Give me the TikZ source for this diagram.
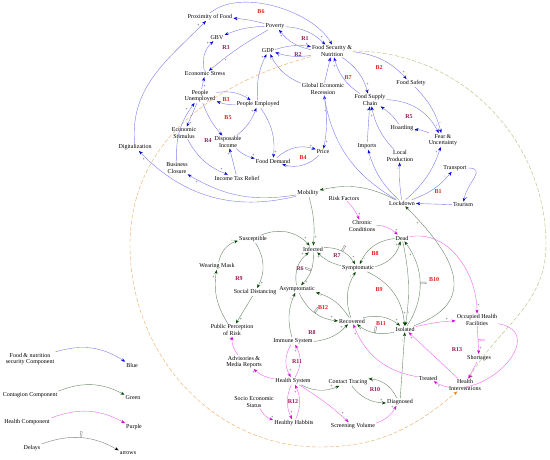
\documentclass[tikz,border=0pt]{standalone}
\usepackage{fontspec}
\setmainfont{Liberation Serif}
\usetikzlibrary{arrows.meta}
\definecolor{foodline}{RGB}{125,125,235}
\definecolor{foodtip}{RGB}{0,0,225}
\definecolor{contline}{RGB}{105,135,105}
\definecolor{conttip}{RGB}{0,70,0}
\definecolor{hlthline}{RGB}{240,100,240}
\definecolor{hlthtip}{RGB}{215,0,215}
\definecolor{loopred}{RGB}{225,30,30}
\definecolor{loopmaroon}{RGB}{145,25,85}
\definecolor{ringorange}{RGB}{235,170,95}
\definecolor{ringolive}{RGB}{185,185,120}
\begin{document}
\begin{tikzpicture}[
    x=1pt, y=1pt,
    auto,
    font=\fontsize{6}{6.3}\selectfont,
    every node/.style={align=center, inner sep=1pt},
    food/.style={draw=foodline, -{Stealth[length=4pt,width=3pt,color=foodtip]}},
    cont/.style={draw=contline, -{Stealth[length=4pt,width=3pt,color=conttip]}},
    hlth/.style={draw=hlthline, -{Stealth[length=4pt,width=3pt,color=hlthtip]}},
    lag/.style={draw=gray, -{Stealth[length=4pt,width=3pt,color=black]}},
    dly/.style={draw=gray, fill=white, sloped, minimum width=1.6pt, minimum height=6pt, inner sep=0pt},
    sgn/.style={font=\fontsize{4}{4}\selectfont, inner sep=0.5pt},
    bl/.style={text=loopred, font=\fontsize{6}{6}\selectfont\bfseries},
    rl/.style={text=loopmaroon, font=\fontsize{6}{6}\selectfont\bfseries},
    ring/.style={dashed, dash pattern=on 4pt off 2pt, thin}
]
\useasboundingbox (0,0) rectangle (550,460);

\node (prox) at (210,443) {Proximity of Food};
\node (pov) at (275,434) {Poverty};
\node (gbv) at (217,422) {GBV};
\node (gdp) at (268,409) {GDP};
\node (fsn) at (332,409) {Food Security \&\\Nutrition};
\node (fsafe) at (411,377) {Food Safety};
\node (estress) at (205,386) {Economic Stress};
\node (ger) at (323,371) {Global Economic\\Recession};
\node (fsc) at (370,360) {Food Supply\\Chain};
\node (punemp) at (200,364) {People\\Unemployed};
\node (pemp) at (258,356) {People Employed};
\node (estim) at (184,327) {Economic\\Stimulus};
\node (dinc) at (228,318) {Disposable\\Income};
\node (fdem) at (273,299) {Food Demand};
\node (price) at (323,308) {Price};
\node (bclos) at (177,292) {Business\\Closure};
\node (itax) at (237,282) {Income Tax Relief};
\node (mob) at (308,267) {Mobility};
\node (risk) at (344,262) {Risk Factors};
\node (digit) at (135,313) {Digitalization};
\node (imports) at (367,314) {Imports};
\node (localp) at (400,304) {Local\\Production};
\node (hoard) at (402,332) {Hoarding};
\node (fear) at (443,320) {Fear \&\\Uncertainty};
\node (transp) at (455,292) {Transport};
\node (lock) at (402,257) {Lockdown};
\node (tour) at (463,255) {Tourism};
\node (chronic) at (362,234) {Chronic\\Conditions};
\node (dead) at (402,222) {Dead};
\node (inf) at (313,211) {Infected};
\node (sympt) at (358,192) {Symptomatic};
\node (asympt) at (297,171) {Asymptomatic};
\node (recov) at (352,139) {Recovered};
\node (isol) at (405,131) {Isolated};
\node (ohf) at (477,140) {Occupied Health\\Facilities};
\node (immune) at (293,119) {Immune System};
\node (susc) at (253,221) {Susceptible};
\node (mask) at (217,194) {Wearing Mask};
\node (sdist) at (255,168) {Social Distancing};
\node (pperc) at (232,130) {Public Perception\\of Risk};
\node (amr) at (244,98) {Advisories \&\\Media Reports};
\node (hsys) at (293,79) {Health System};
\node (ctrace) at (348,78) {Contact Tracing};
\node (diag) at (400,58) {Diagnosed};
\node (treat) at (428,82) {Treated};
\node (hint) at (465,75) {Health\\Interventions};
\node (short) at (479,102) {Shortages};
\node (ses) at (254,58) {Socio Economic\\Status};
\node (hhab) at (294,37) {Healthy Habbits};
\node (screen) at (353,34) {Screening Volume};

\node[bl] at (261,448) {B6};
\node[rl] at (226,412) {R3};
\node[rl] at (305,421) {R1};
\node[rl] at (298,405) {R2};
\node[bl] at (379,392) {B2};
\node[bl] at (348,382) {B7};
\node[bl] at (226,360) {B3};
\node[bl] at (228,342) {B5};
\node[rl] at (208,319) {R4};
\node[bl] at (303,302) {B4};
\node[rl] at (409,343) {R5};
\node[bl] at (438,268) {B1};
\node[rl] at (337,204) {R7};
\node[bl] at (375,206) {B8};
\node[rl] at (300,191) {R6};
\node[rl] at (239,181) {R9};
\node[bl] at (379,170) {B9};
\node[bl] at (434,180) {B10};
\node[bl] at (323,152) {B12};
\node[bl] at (381,136) {B11};
\node[rl] at (312,127) {R8};
\node[rl] at (297,98) {R11};
\node[rl] at (375,70) {R10};
\node[rl] at (293,58) {R12};
\node[rl] at (457,110) {R13};

\coordinate (ringW) at (130,215);
\coordinate (ringS) at (320,13);
\coordinate (ringE) at (546,215);
\draw[ring, draw=ringorange, -{Stealth[length=4pt,width=3pt,color=orange]}]
  (fsn) to[out=195, in=90] (ringW) to[out=-90, in=180] (ringS) to[out=0, in=-140] (hint);
\draw[ring, draw=ringolive, -{Stealth[length=4pt,width=3pt,color=olive]}]
  (fsn) to[out=0, in=90] (ringE) to[out=-90, in=60] (hint);

\path
  (pov) edge[food, bend right=5] node[sgn, pos=.85] {+} (prox)
  (digit) edge[food, out=95, in=225] node[sgn, pos=.95] {+} (prox)
  (prox.north) edge[food, out=40, in=120, looseness=.8] (fsn.north)
  (pov) edge[food, bend left=20] node[sgn, pos=.85] {+} (fsn)
  (fsn) edge[food, bend left=20] node[sgn, pos=.85] {+} (pov)
  (gdp) edge[food, bend left=12] node[sgn, pos=.85] {+} (fsn)
  (fsn) edge[food, bend left=12] node[sgn, pos=.85] {+} (gdp)
  (pov) edge[food, bend right=10] (gbv)
  (estress) edge[food, bend left=30] node[sgn, pos=.85] {+} (gbv)
  (pov) edge[food, bend right=5] node[sgn, pos=.75] {+} (estress)
  (punemp) edge[food] node[sgn, pos=.4, swap] {+} (estress)
  (ger) edge[food, bend left=20] node[sgn, pos=.9] {-} (gdp)
  (pemp) edge[food, bend left=15] node[sgn, pos=.9] {+} (gdp)
  (ger) edge[food] node[sgn, pos=.85] {-} (fsn)
  (fsn) edge[food, bend left=20] node[sgn, pos=.85] {+} (fsc)
  (fsc) edge[food, bend left=20] node[sgn, pos=.85] {+} (fsn)
  (fsn) edge[food, bend left=20] node[sgn, pos=.9] {+} (fsafe)
  (fsafe) edge[food, bend left=15] node[sgn, pos=.85] {-} (fear)
  (fsc) edge[food, bend left=30] node[sgn, pos=.9] {-} (fear)
  (fear) edge[food, bend right=10] node[sgn, pos=.8] {+} (hoard)
  (hoard) edge[food, bend right=10] node[sgn, pos=.85] {-} (fsc)
  (localp) edge[food, bend left=15] node[sgn, pos=.85] {+} (fsc)
  (imports) edge[food] node[sgn, pos=.85] {+} (fsc)
  (lock) edge[food, bend left=15] node[sgn, pos=.85] {-} (imports)
  (lock) edge[food, bend left=5] node[sgn, pos=.85] {-} (localp)
  (lock) edge[food, bend right=15] node[sgn, pos=.9] {+} (fear)
  (lock) edge[food, bend right=15] node[sgn, pos=.85] {-} (transp)
  (transp) edge[food, out=0, in=80, looseness=1.5] node[sgn, pos=.9] {+} (tour)
  (tour) edge[food] node[sgn, pos=.9] {+} (lock)
  (lock) edge[food, bend left=25] node[sgn, pos=.9] {+} (ger)
  (ger) edge[food, bend left=10] node[sgn, pos=.85] {+} (price)
  (fdem) edge[food, bend left=30] node[sgn, pos=.85] {+} (price)
  (price) edge[food, bend left=30] node[sgn, pos=.85] {-} (fdem)
  (pemp) edge[food, bend left=20] node[sgn, pos=.9] {+} (fdem)
  (dinc) edge[food, bend right=15] node[sgn, pos=.85] {+} (fdem)
  (dinc) edge[food, bend right=15] node[sgn, pos=.85] {+} (pemp)
  (punemp) edge[food, bend left=20] node[sgn, pos=.85] {-} (pemp)
  (pemp) edge[food, bend left=10] node[sgn, pos=.85] {-} (punemp)
  (punemp) edge[food, bend right=10] node[sgn, pos=.85] {-} (dinc)
  (punemp) edge[food] node[sgn, pos=.8] {+} (estim)
  (estim) edge[food, bend right=20] node[sgn, pos=.85] {+} (itax)
  (itax) edge[food] node[sgn, pos=.85] {+} (dinc)
  (bclos) edge[food, bend left=20] node[sgn, pos=.85] {+} (punemp)
  (mob) edge[food, bend left=20] node[sgn, pos=.9] {+} (bclos)
  (mob) edge[food, bend left=30] node[sgn, pos=.95] {+} (digit);

\path
  (lock) edge[cont, bend right=20] node[sgn, pos=.85] {-} (mob)
  (mob) edge[cont, bend left=10] node[sgn, pos=.85] {+} (inf)
  (susc) edge[cont, bend left=35] node[sgn, pos=.85] {+} (inf)
  (susc) edge[cont, bend left=30] node[sgn, pos=.85] {+} (sdist)
  (mask) edge[cont, bend left=30] node[sgn, pos=.85] {-} (susc)
  (pperc) edge[cont, bend left=20] node[sgn, pos=.85] {+} (mask)
  (sdist) edge[cont] node[sgn, pos=.8] {+} (pperc)
  (inf) edge[cont, bend left=25] node[dly] {} node[sgn, pos=.85] {+} (asympt)
  (asympt) edge[cont, bend left=30] node[sgn, pos=.85] {+} (inf)
  (inf) edge[cont, bend left=30] node[dly] {} node[sgn, pos=.85] {+} (sympt)
  (sympt) edge[cont, bend left=15] node[sgn, pos=.85] {+} (inf)
  (dead) edge[cont, bend right=30] node[sgn, pos=.85] {-} (sympt)
  (sympt) edge[cont, bend right=30] node[sgn, pos=.85] {+} (dead)
  (sympt) edge[cont, bend left=30] node[sgn, pos=.85] {+} (isol)
  (recov) edge[cont, bend left=25] node[sgn, pos=.85] {-} (sympt)
  (dead) edge[cont, bend left=10] node[sgn, pos=.85] {-} (isol)
  (isol) edge[cont, bend right=35] node[dly] {} node[sgn, pos=.85] {+} (dead)
  (isol) edge[cont, out=20, in=-45, looseness=1.5] node[sgn, pos=.9] {+} (lock)
  (recov) edge[cont, bend left=25] node[sgn, pos=.85] {+} (isol)
  (isol) edge[cont, bend left=25] node[dly] {} node[sgn, pos=.85] {+} (recov)
  (asympt) edge[cont, bend right=30] node[dly] {} node[sgn, pos=.85] {+} (recov)
  (recov) edge[cont, bend right=20] node[sgn, pos=.85] {-} (asympt)
  (immune) edge[cont, bend left=20] node[sgn, pos=.85] {-} (asympt)
  (immune) edge[cont, bend right=20] node[sgn, pos=.85] {+} (recov)
  (hsys) edge[cont, bend right=25] node[sgn, pos=.85] {+} (ctrace)
  (ctrace) edge[cont, bend right=25] node[sgn, pos=.85] {+} (diag)
  (diag) edge[cont, bend right=30] node[sgn, pos=.85] {+} (ctrace)
  (diag) edge[cont] node[sgn, pos=.85] {-} (isol);

\path
  (risk) edge[hlth, bend left=10] node[sgn, pos=.85] {+} (chronic)
  (chronic) edge[hlth, bend left=20] node[sgn, pos=.85] {+} (dead)
  (dead) edge[hlth, out=10, in=90] node[sgn, pos=.95] {+} (ohf)
  (isol) edge[hlth, bend left=5] node[sgn, pos=.85] {+} (ohf)
  (ohf) edge[hlth] node[dly, draw=hlthline] {} node[sgn, pos=.85] {+} (short)
  (short) edge[hlth] node[sgn, pos=.8] {+} (hint)
  (hint) edge[hlth] node[sgn, pos=.9] {+} (isol)
  (ohf) edge[hlth, out=-10, in=-30, looseness=1.6] node[sgn, pos=.95] {+} (treat)
  (treat) edge[hlth, bend left=30] node[sgn, pos=.9] {+} (recov)
  (screen) edge[hlth, bend right=20] node[sgn, pos=.85] {+} (diag)
  (hsys) edge[hlth, bend left=5] node[sgn, pos=.85] {+} (screen)
  (hsys) edge[hlth, bend right=30] node[sgn, pos=.85] {+} (immune)
  (immune) edge[hlth, bend right=30] node[sgn, pos=.85] {+} (hsys)
  (hsys) edge[hlth, bend left=15] node[sgn, pos=.9] {+} (amr)
  (amr) edge[hlth, bend left=20] node[sgn, pos=.85] {+} (pperc)
  (hsys) edge[hlth, bend right=25] node[sgn, pos=.85] {+} (hhab)
  (hhab) edge[hlth, bend right=25] node[sgn, pos=.85] {+} (hsys)
  (ses) edge[hlth, bend right=20] node[sgn, pos=.85] {+} (hhab);

\node (lgfood) at (30,101) {Food \& nutrition\\security Component};
\node (lgblue) at (132,95) {Blue};
\node (lgcont) at (30,65) {Contagion Component};
\node (lggreen) at (133,62) {Green};
\node (lghlth) at (27,38) {Health Component};
\node (lgpurple) at (134,33) {Purple};
\node (lgdelay) at (32,12) {Delays};
\node (lgarrows) at (128,7) {arrows};
\path
  (lgfood.north east) edge[food, bend left=25] (lgblue.north west)
  (lgcont.north east) edge[cont, bend left=25] (lggreen.north west)
  (lghlth.north east) edge[hlth, bend left=25] (lgpurple.north west)
  (lgdelay.north east) edge[lag, bend left=25] node[dly] {} (lgarrows.north west);
\end{tikzpicture}
\end{document}
